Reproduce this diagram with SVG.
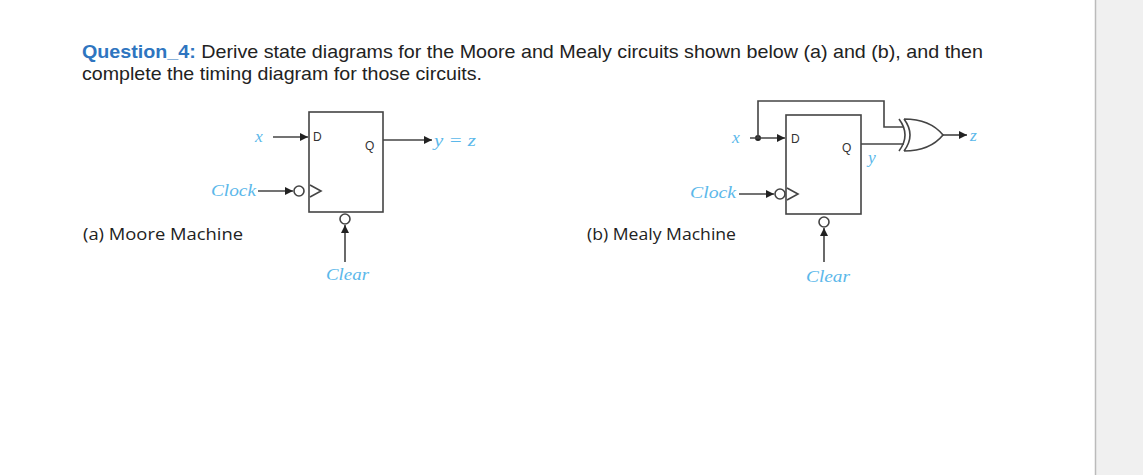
<svg xmlns="http://www.w3.org/2000/svg" width="1143" height="475" viewBox="0 0 1143 475">
<style>
.t{font-family:"Liberation Sans",Arial,sans-serif;font-size:19px;fill:#222}
.b{fill:#2e75c0;font-weight:bold}
.lbl{font-family:"Open Sans","DejaVu Sans",sans-serif;font-size:16px;fill:#222}
.blue{font-family:"Liberation Serif",serif;font-style:italic;font-size:17.5px;fill:#5bb8ea}
.pin{font-family:"Liberation Sans",Arial,sans-serif;font-size:12px;fill:#333}
.w{stroke:#444;stroke-width:1.6;fill:none}
.bx{stroke:#444;stroke-width:1.6;fill:#fff}
</style>
<defs>
<marker id="a" viewBox="0 0 10 10" refX="10" refY="5" markerWidth="11" markerHeight="8" markerUnits="userSpaceOnUse" orient="auto"><path d="M0,0L10,5L0,10z" fill="#222"/></marker>
</defs>
<rect width="1143" height="475" fill="#fff"/>
<rect x="1095" y="0" width="48" height="475" fill="#f0f0f0"/>
<line x1="1095.5" y1="0" x2="1095.5" y2="475" stroke="#bbb" stroke-width="1.5"/>
<text class="t" x="82" y="58" textLength="901" lengthAdjust="spacingAndGlyphs"><tspan class="b">Question_4:</tspan> Derive state diagrams for the Moore and Mealy circuits shown below (a) and (b), and then</text>
<text class="t" x="82" y="80" textLength="400" lengthAdjust="spacingAndGlyphs">complete the timing diagram for those circuits.</text>

<g id="moore">
<rect class="bx" x="309" y="112" width="74" height="100"/>
<text class="pin" x="313" y="141">D</text>
<text class="pin" x="365" y="150">Q</text>
<circle class="bx" cx="299" cy="191" r="5"/>
<path class="w" d="M310,185L321,191L310,197"/>
<circle class="bx" cx="345" cy="219" r="5"/>
<text class="blue" x="255" y="142">x</text>
<text class="blue" x="434" y="146" textLength="42" lengthAdjust="spacingAndGlyphs">y = z</text>
<text class="blue" x="211" y="196" textLength="45" lengthAdjust="spacingAndGlyphs">Clock</text>
<text class="blue" x="326" y="280" textLength="43" lengthAdjust="spacingAndGlyphs">Clear</text>
<text class="lbl" x="83" y="240" textLength="160" lengthAdjust="spacingAndGlyphs">(a) Moore Machine</text>
</g>

<g id="mealy">
<rect class="bx" x="786" y="115" width="75" height="99"/>
<text class="pin" x="791" y="143">D</text>
<text class="pin" x="842" y="152">Q</text>
<circle class="bx" cx="780" cy="194" r="5"/>
<path class="w" d="M787,188L798,194L787,200"/>
<circle class="bx" cx="824" cy="222" r="5"/>
<path class="w" d="M899,119Q911,135 899,151M904,119Q916,135 904,151M904,119Q930,119 943,135Q930,151 904,151"/>
<circle cx="758" cy="138" r="3" fill="#222"/>
<text class="blue" x="732" y="143">x</text>
<text class="blue" x="868" y="163">y</text>
<text class="blue" x="970" y="141">z</text>
<text class="blue" x="690" y="198" textLength="46" lengthAdjust="spacingAndGlyphs">Clock</text>
<text class="blue" x="806" y="282" textLength="44" lengthAdjust="spacingAndGlyphs">Clear</text>
<text class="lbl" x="587" y="240" textLength="149" lengthAdjust="spacingAndGlyphs">(b) Mealy Machine</text>
</g>

<g id="connectors">
<line class="w" x1="273" y1="137" x2="308" y2="137" marker-end="url(#a)"/>
<line class="w" x1="383" y1="140" x2="432" y2="140" marker-end="url(#a)"/>
<line class="w" x1="258" y1="191" x2="293" y2="191" marker-end="url(#a)"/>
<line class="w" x1="345" y1="262" x2="345" y2="225" marker-end="url(#a)"/>
<line class="w" x1="750" y1="138" x2="785" y2="138" marker-end="url(#a)"/>
<path class="w" d="M758,138V101H884V127H904"/>
<line class="w" x1="861" y1="144" x2="904" y2="144"/>
<line class="w" x1="943" y1="135" x2="967" y2="135" marker-end="url(#a)"/>
<line class="w" x1="739" y1="194" x2="774" y2="194" marker-end="url(#a)"/>
<line class="w" x1="824" y1="262" x2="824" y2="228" marker-end="url(#a)"/>
</g>
</svg>
